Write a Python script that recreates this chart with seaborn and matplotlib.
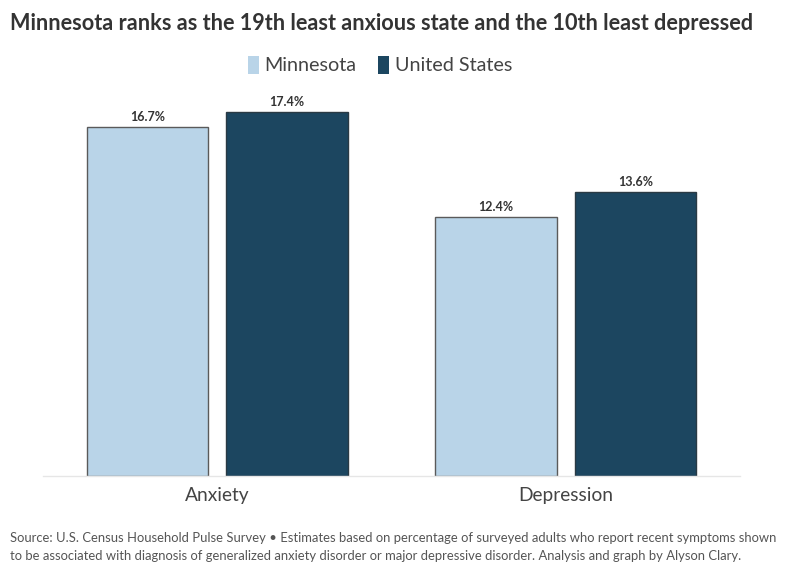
import matplotlib
matplotlib.use("Agg")
import matplotlib.pyplot as plt
import seaborn as sns
import pandas as pd
from matplotlib.patches import Patch

categories = ["Anxiety", "Depression"]
series = ["Minnesota", "United States"]
minnesota = [16.7, 12.4]
united_states = [17.4, 13.6]
colors = {"Minnesota": "#b9d4e8", "United States": "#1c4660"}
edges = {"Minnesota": "#5a5a5a", "United States": "#2a3a44"}

title = "Minnesota ranks as the 19th least anxious state and the 10th least depressed"
footnote = ("Source: U.S. Census Household Pulse Survey \u2022 Estimates based on percentage of surveyed adults who report recent symptoms shown\n"
            "to be associated with diagnosis of generalized anxiety disorder or major depressive disorder. Analysis and graph by Alyson Clary.")

df = pd.DataFrame({
    "category": categories * 2,
    "series": [series[0]] * 2 + [series[1]] * 2,
    "value": minnesota + united_states,
})

sns.set_theme(style="white")
plt.rcParams["font.family"] = ["Lato", "DejaVu Sans"]

W, H = 796, 575
fig = plt.figure(figsize=(W / 100, H / 100), dpi=100)
ax_left, ax_right, ax_bottom, ax_top = 43, 740, 476, 95
ax = fig.add_axes([ax_left / W, 1 - ax_bottom / H, (ax_right - ax_left) / W, (ax_bottom - ax_top) / H])

sns.barplot(data=df, x="category", y="value", hue="series", order=categories,
            hue_order=series, palette=colors, width=0.8, gap=0.13, ax=ax,
            legend=False, saturation=1)

for i, cont in enumerate(ax.containers):
    s = series[i]
    for bar in cont:
        bar.set_edgecolor(edges[s])
        bar.set_linewidth(1.0)
    ax.bar_label(cont, labels=[f"{v:.1f}%" for v in cont.datavalues], padding=3,
                 fontsize=9, fontweight="bold", color="#333333")

px_per_unit = 20.9
ax.set_ylim(0, (ax_bottom - ax_top) / px_per_unit)
ax.set_xlim(-0.5, 1.5)
ax.set_yticks([])
ax.set_xlabel("")
ax.set_ylabel("")
for sp in ["top", "right", "left"]:
    ax.spines[sp].set_visible(False)
ax.spines["bottom"].set_color("#e6e6e6")
ax.spines["bottom"].set_linewidth(1)
ax.tick_params(axis="x", length=0, pad=8, labelsize=13.8, labelcolor="#444444")

fig.text(10 / W, 1 - 24 / H, title, fontsize=15.6, fontweight="bold", color="#333333",
         ha="left", va="center")

handles = [Patch(facecolor=colors[s], edgecolor="none") for s in series]
fig.legend(handles, series, loc="center", bbox_to_anchor=(380 / W, 1 - 65 / H), ncol=2,
           frameon=False, fontsize=14.2, handlelength=0.55, handleheight=1.05,
           handletextpad=0.3, columnspacing=1.1, labelcolor="#444444")

fig.text(10 / W, 1 - 547 / H, footnote, fontsize=9.4, color="#555555", ha="left",
         va="center", linespacing=1.6)

fig.savefig("out.png", dpi=100)
